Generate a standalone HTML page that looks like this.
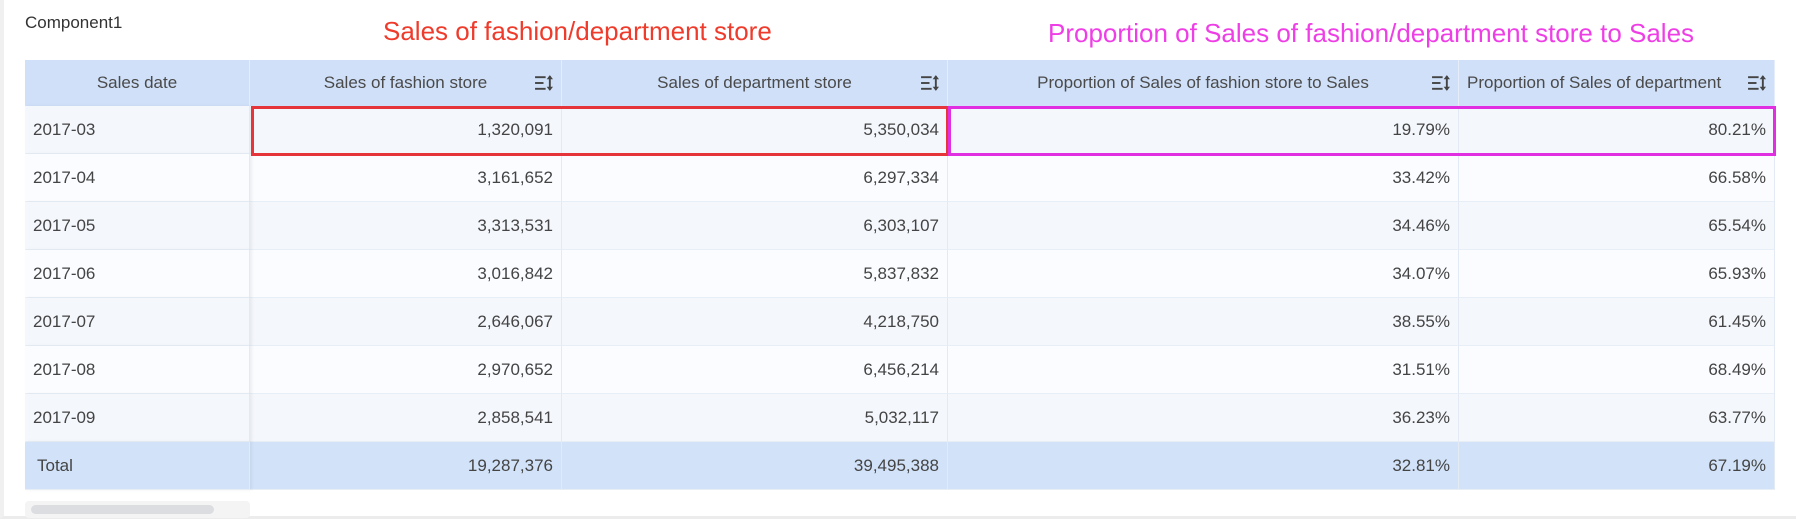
<!DOCTYPE html>
<html><head><meta charset="utf-8"><style>
*{margin:0;padding:0;box-sizing:border-box}
body{width:1796px;height:521px;background:#fff;font-family:"Liberation Sans",sans-serif;position:relative;overflow:hidden}
.frame{position:absolute;left:0;top:0;width:1796px;height:519px;border-left:4px solid #f0f0f0;border-bottom:3px solid #ececec}
.comp{position:absolute;left:25px;top:13px;font-size:17px;color:#333}
.t1{position:absolute;left:383px;top:16px;font-size:26px;color:#ee3b2b;white-space:nowrap}
.t2{position:absolute;left:1048px;top:18px;font-size:26px;color:#ee3fe6;white-space:nowrap}
.c{position:absolute;font-size:17px;color:#444;line-height:48px;height:48px;padding:0 8px;white-space:nowrap;border-right:1px solid #e3eaf3}
.h{background:#cfe0f8;height:46px;line-height:46px;color:#4a4a4a;border-right:1px solid #e4edf9}
.r{text-align:right}
.ic{position:absolute;right:8px;top:14px;width:19px;height:18px}
.box{position:absolute;border:3px solid}
</style></head><body>
<div class="frame"></div>
<div class="comp">Component1</div>
<div class="t1">Sales of fashion/department store</div>
<div class="t2">Proportion of Sales of fashion/department store to Sales</div>
<div id="tbl"></div>
<div style="position:absolute;left:25px;top:501px;width:225px;height:17px;background:#f4f4f5;border-radius:4px"></div>
<div style="position:absolute;left:31px;top:505px;width:183px;height:9px;background:#dcdde0;border-radius:5px"></div>
<script>
const cols=[25,250,562,948,1459,1775];
const heads=["Sales date","Sales of fashion store","Sales of department store","Proportion of Sales of fashion store to Sales","Proportion of Sales of department"];
const rows=[["2017-03","1,320,091","5,350,034","19.79%","80.21%"],["2017-04","3,161,652","6,297,334","33.42%","66.58%"],["2017-05","3,313,531","6,303,107","34.46%","65.54%"],["2017-06","3,016,842","5,837,832","34.07%","65.93%"],["2017-07","2,646,067","4,218,750","38.55%","61.45%"],["2017-08","2,970,652","6,456,214","31.51%","68.49%"],["2017-09","2,858,541","5,032,117","36.23%","63.77%"],["Total","19,287,376","39,495,388","32.81%","67.19%"]];
const icon='<svg class="ic" viewBox="0 0 18 17"><g stroke="#444" stroke-width="1.8" fill="none"><line x1="1" y1="3" x2="11" y2="3"/><line x1="1" y1="8.5" x2="9" y2="8.5"/><line x1="1" y1="14" x2="11" y2="14"/><line x1="15" y1="2" x2="15" y2="15"/></g><path d="M12 5 L15 1 L18 5Z M12 12 L15 16 L18 12Z" fill="#444"/></svg>';
let h='';
for(let i=0;i<5;i++){
 const w=cols[i+1]-cols[i];
 const ta=i==4?'text-align:left;':'text-align:center;';
 h+=`<div class="c h" style="left:${cols[i]}px;top:60px;width:${w}px;${ta}">${heads[i]}${i>0?icon:''}</div>`;
}
rows.forEach((r,j)=>{
 const top=106+j*48;
 const tot=j==7;
 const bg=tot?'#d2e3f9':(j%2==0?'#f4f7fc':'#fafcff');
 for(let i=0;i<5;i++){
  const w=cols[i+1]-cols[i];
  let st=`left:${cols[i]}px;top:${top}px;width:${w}px;height:48px;background:${bg};border-bottom:1px solid #e8eef6;`;
  if(i==0) st+=`box-shadow:2px 0 3px rgba(0,0,0,0.06);z-index:1;padding-left:${tot?12:8}px;`;
  h+=`<div class="c ${i?'r':''}" style="${st}">${r[i]}</div>`;
 }
});
h+=`<div class="box" style="left:251px;top:106px;width:698px;height:50px;border-color:#e6353a;z-index:2"></div>`;
h+=`<div class="box" style="left:948px;top:106px;width:828px;height:50px;border-color:#e02fe0;z-index:2"></div>`;
document.getElementById('tbl').innerHTML=h;
</script>
</body></html>
